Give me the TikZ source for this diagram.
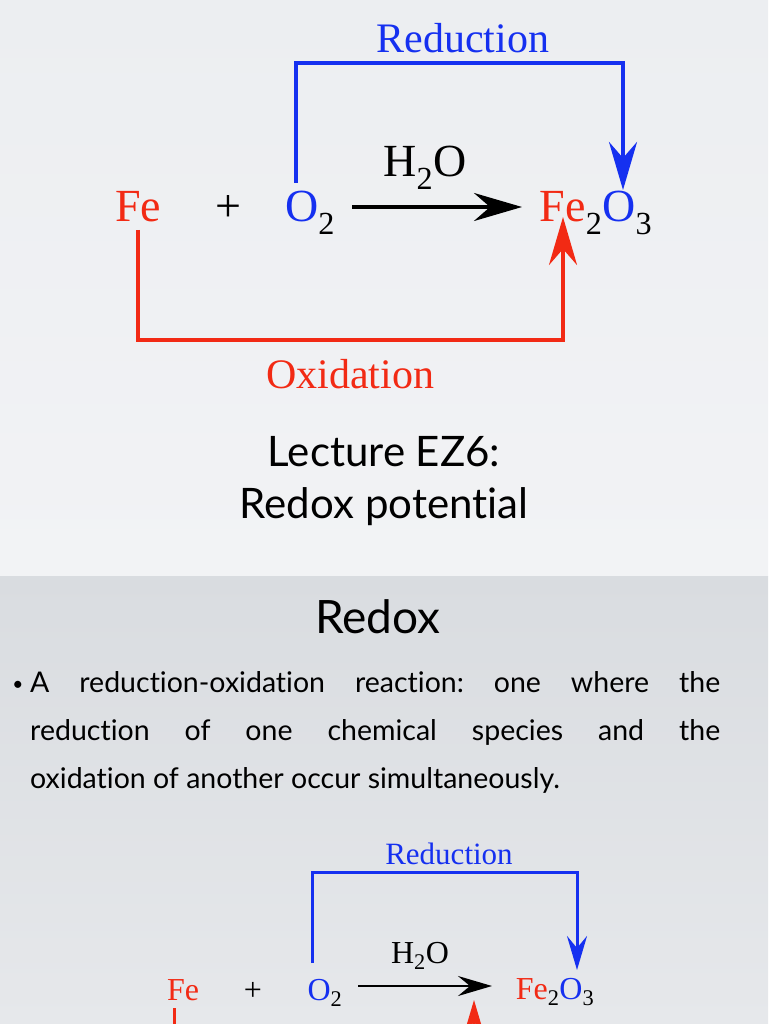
\documentclass[tikz,border=0pt]{standalone}
\usepackage{fontspec}
\setmainfont{Liberation Serif}
\newfontfamily\gill[Ligatures=NoCommon]{Lato}
\usetikzlibrary{arrows.meta}
\definecolor{rred}{HTML}{F22A14}
\definecolor{bblue}{HTML}{1530F0}
\definecolor{bgA}{HTML}{ECEEF1}
\definecolor{bgB}{HTML}{F2F3F5}
\definecolor{bgC}{HTML}{D9DCE0}
\definecolor{bgD}{HTML}{E6E8EB}
\frenchspacing
\begin{document}
\begin{tikzpicture}[x=1pt,y=-1pt,
  chem/.style={inner sep=0pt,anchor=base},
  bigtip/.style={-{Stealth[length=48pt,width=28pt,inset=16pt]}},
  smalltip/.style={-{Stealth[length=34pt,width=20pt,inset=12pt]}}]
\useasboundingbox (0,0) rectangle (768,1024);
\shade[top color=bgA,bottom color=bgB] (0,0) rectangle (768,576);
\shade[top color=bgC,bottom color=bgD] (0,576) rectangle (768,1024);
% top diagram
\node[chem,text=rred,font=\fontsize{46}{48}\selectfont] (fe) at (138,222) {Fe};
\node[chem,font=\fontsize{46}{48}\selectfont] (plus) at (228,222) {+};
\node[chem,text=bblue,font=\fontsize{46}{48}\selectfont] (o2) at (310,222) {O\textsubscript{\textcolor{black}{2}}};
\node[chem,font=\fontsize{46}{48}\selectfont] (h2o) at (425,177) {H\textsubscript{2}O};
\node[chem,font=\fontsize{46}{48}\selectfont] (p) at (596,222) {\textcolor{rred}{Fe}\textsubscript{2}\textcolor{bblue}{O}\textsubscript{3}};
\node[chem,text=bblue,font=\fontsize{42}{48}\selectfont] (red) at (463,53) {Reduction};
\node[chem,text=rred,font=\fontsize{42}{48}\selectfont] (ox) at (350,388) {Oxidation};
\coordinate (a1) at (352,207); \coordinate (a2) at (522,207);
\draw[line width=3.6pt,bigtip] (a1) -- (a2);
\coordinate (b0) at (296,183); \coordinate (b1) at (623,190);
\draw[draw=bblue,line width=4pt,bigtip] (b0) |- (460,63) -| (b1);
\coordinate (r0) at (138,230); \coordinate (r1) at (563,217);
\draw[draw=rred,line width=3.6pt,bigtip] (r0) |- (350,340) -| (r1);
\node[font=\gill\fontsize{42}{52}\selectfont,align=center] (lect) at (384,481) {Lecture EZ6:\\Redox potential};
% second slide
\node[font=\gill\fontsize{46}{48}\selectfont] (title) at (378,617) {Redox};
\node[font=\gill\fontsize{19}{20}\selectfont] (bul) at (18,686) {•};
\node[anchor=north west,inner sep=0pt,font=\gill\fontsize{28.5}{48}\selectfont] (txt) at (30,671)
 {\parbox{690pt}{\hyphenpenalty=10000 A reduction-oxidation reaction: one where the\linebreak reduction of one chemical species and the\linebreak oxidation of another occur simultaneously.}};
\node[chem,text=rred,font=\fontsize{32}{34}\selectfont] (fe2) at (183,1000) {Fe};
\node[chem,font=\fontsize{32}{34}\selectfont] (plus2) at (253,1000) {+};
\node[chem,text=bblue,font=\fontsize{32}{34}\selectfont] (o22) at (325,1000) {O\textsubscript{\textcolor{black}{2}}};
\node[chem,font=\fontsize{32}{34}\selectfont] (h2o2) at (420,963) {H\textsubscript{2}O};
\node[chem,font=\fontsize{32}{34}\selectfont] (p2) at (555,999) {\textcolor{rred}{Fe}\textsubscript{2}\textcolor{bblue}{O}\textsubscript{3}};
\node[chem,text=bblue,font=\fontsize{31}{34}\selectfont] (red2) at (449,864) {Reduction};
\coordinate (c1) at (358,986); \coordinate (c2) at (492,986);
\draw[line width=2.8pt,smalltip] (c1) -- (c2);
\coordinate (d0) at (312,963); \coordinate (d1) at (577,970);
\draw[draw=bblue,line width=3pt,smalltip] (d0) |- (450,872) -| (d1);
\coordinate (e0) at (174,1008); \coordinate (e1) at (174,1030);
\draw[draw=rred,line width=3pt] (e0) -- (e1);
\coordinate (f0) at (474,1030); \coordinate (f1) at (474,1000);
\draw[draw=rred,line width=2.8pt,smalltip] (f0) -- (f1);
\end{tikzpicture}
\end{document}
